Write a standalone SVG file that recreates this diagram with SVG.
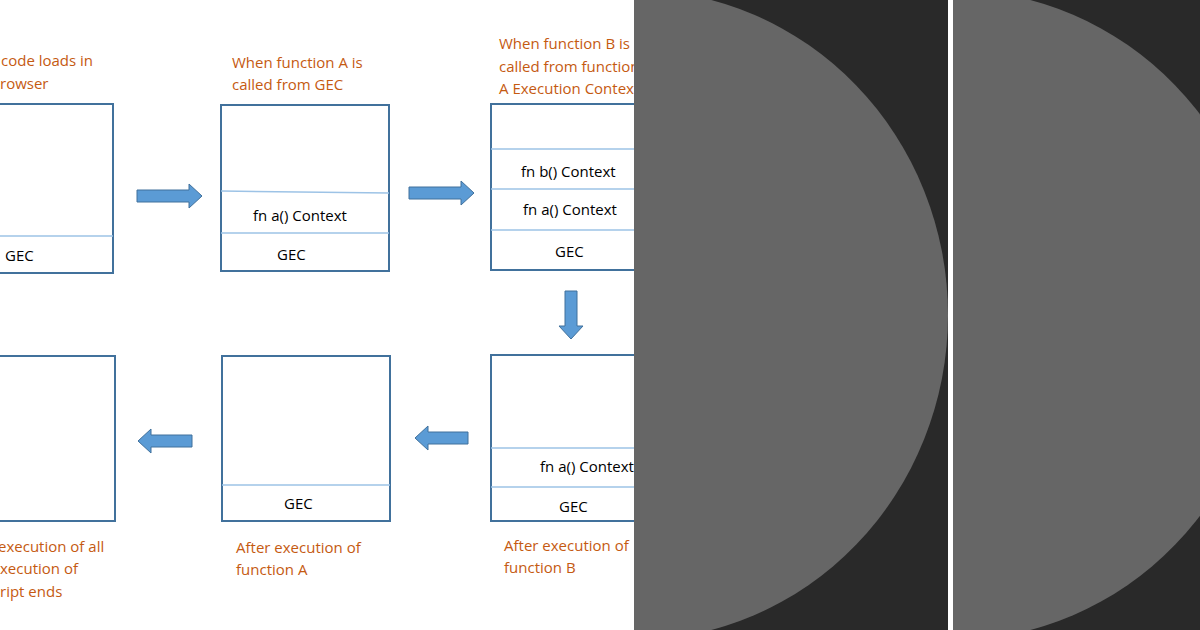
<svg xmlns="http://www.w3.org/2000/svg" width="1200" height="630" viewBox="0 0 1200 630">
<style>
.box{fill:#fff;stroke:#41719c;stroke-width:2}
.sep{stroke:#9dc3e6;stroke-width:1.5}
.t{font-family:"Open Sans","Liberation Sans",sans-serif;font-size:15px;fill:#000}
.o{font-family:"Open Sans","Liberation Sans",sans-serif;font-size:15px;fill:#c55a11}
.arr{fill:#5b9bd5;stroke:#41719c;stroke-width:1}
</style>
<rect width="1200" height="630" fill="#fff"/>
<g id="s1"><rect class="box" x="-5" y="104" width="118" height="169"/><line class="sep" x1="-5" y1="236" x2="113" y2="236"/><text class="t" x="5" y="261">GEC</text>
<text class="o" x="1" y="66">code loads in</text><text class="o" x="0" y="89">rowser</text></g>
<g id="s2"><rect class="box" x="221" y="105" width="168" height="166"/><line class="sep" x1="221" y1="191" x2="389" y2="193"/><line class="sep" x1="221" y1="233" x2="389" y2="233"/>
<text class="t" x="253" y="221">fn a() Context</text><text class="t" x="277" y="260">GEC</text>
<text class="o" x="232" y="68">When function A is</text><text class="o" x="232" y="90">called from GEC</text></g>
<g id="s3"><rect class="box" x="491" y="104" width="160" height="166"/><line class="sep" x1="491" y1="149" x2="640" y2="149"/><line class="sep" x1="491" y1="189" x2="640" y2="189"/><line class="sep" x1="491" y1="230" x2="640" y2="230"/>
<text class="t" x="521" y="177">fn b() Context</text><text class="t" x="523" y="215">fn a() Context</text><text class="t" x="555" y="257">GEC</text>
<text class="o" x="499" y="49">When function B is</text><text class="o" x="499" y="72">called from function</text><text class="o" x="499" y="94">A Execution Context</text></g>
<g id="s4"><rect class="box" x="491" y="355" width="160" height="166"/><line class="sep" x1="491" y1="448" x2="640" y2="448"/><line class="sep" x1="491" y1="487" x2="640" y2="487"/>
<text class="t" x="540" y="472">fn a() Context</text><text class="t" x="559" y="512">GEC</text>
<text class="o" x="504" y="551">After execution of</text><text class="o" x="504" y="573">function B</text></g>
<g id="s5"><rect class="box" x="222" y="356" width="168" height="165"/><line class="sep" x1="222" y1="485" x2="390" y2="485"/><text class="t" x="284" y="509">GEC</text>
<text class="o" x="236" y="553">After execution of</text><text class="o" x="236" y="575">function A</text></g>
<g id="s6"><rect class="box" x="-5" y="356" width="120" height="165"/>
<text class="o" x="-2" y="552">execution of all</text><text class="o" x="0" y="574">xecution of</text><text class="o" x="0" y="597">ript ends</text></g>
<g id="connectors">
<polygon class="arr" points="137,190 189,190 189,184 202,196 189,208 189,202 137,202"/>
<polygon class="arr" points="409,187 461,187 461,181 474,193 461,205 461,199 409,199"/>
<polygon class="arr" points="565,291 577,291 577,326 583,326 571,339 559,326 565,326"/>
<polygon class="arr" points="468,432 428,432 428,426 415,438 428,450 428,444 468,444"/>
<polygon class="arr" points="192,435 151,435 151,429 138,441 151,453 151,447 192,447"/>
</g>
<rect x="634" y="0" width="314" height="630" fill="#292929"/>
<rect x="953" y="0" width="247" height="630" fill="#292929"/>
<path d="M634,-10 A314,325 0 0 1 634,640 Z" fill="#666"/>
<path d="M953,-10 A314,325 0 0 1 953,640 Z" fill="#666"/>
</svg>
